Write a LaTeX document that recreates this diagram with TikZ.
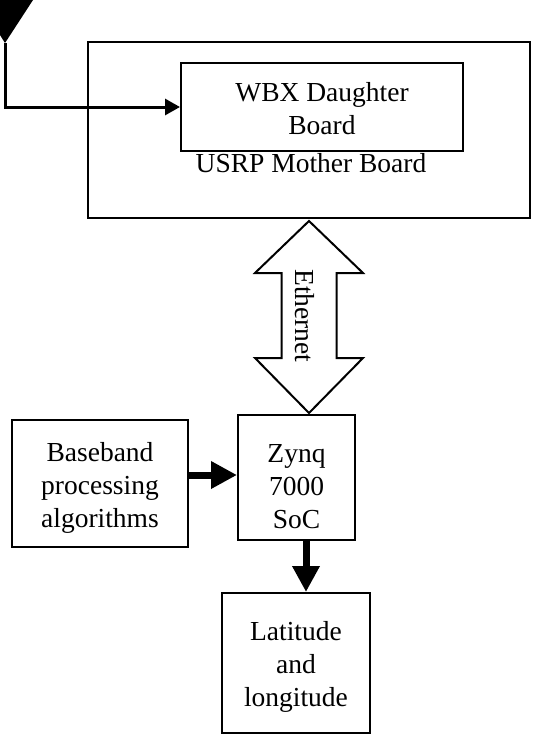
\documentclass[tikz,border=0pt]{standalone}
\usepackage{fontspec}
\setmainfont{Liberation Serif}
\usetikzlibrary{positioning,arrows.meta,calc}

\begin{document}
\begin{tikzpicture}[x=1pt, y=-1pt, thick,
  box/.style = {draw, line width=2pt, align=center, inner sep=0pt, font=\fontsize{27.5}{33}\selectfont},
  label/.style = {inner sep=1pt, font=\fontsize{27.5}{33}\selectfont},
  bigarrow/.style = {line width=7pt, -{Triangle[length=26pt, width=26pt]}}]
\useasboundingbox (0,0) rectangle (539,737);
% boards
\node[box, minimum width=442pt, minimum height=176pt] (mb) at (309,130) {};
\node[box, minimum width=282pt, minimum height=88pt] (db) at (322,107) {\rule{0pt}{23pt}WBX Daughter\\Board};
\node[label, below=0pt of db, xshift=-11pt] (mblabel) {USRP Mother Board};
% processing
\node[box, minimum width=117pt, minimum height=125pt] (zynq) at (296.5,477.5) {\rule{0pt}{36pt}Zynq\\7000\\SoC};
\node[box, minimum width=176pt, minimum height=127pt] (bb) at (100,483.5) {\rule{0pt}{27pt}Baseband\\processing\\algorithms};
\node[box, minimum width=148pt, minimum height=140pt] (latlon) at (296,663) {\rule{0pt}{27pt}Latitude\\and\\longitude};
% antenna
\fill (-22,0) -- (33,0) -- (5,43) -- cycle;
\coordinate (ant) at (5,43);
\draw[line width=3pt, -{Triangle[length=15pt, width=16pt]}] (ant) |- (db.west);
% ethernet link
\draw[line width=2pt, fill=white] ($(mb.south)+(0,2)$) -- ++(54,52) -- ++(-26.5,0) -- ++(0,85)
  -- ++(26.5,0) -- ++(-54,55) -- ++(-54,-55) -- ++(26.5,0) -- ++(0,-85) -- ++(-26.5,0) -- cycle;
\node[label, rotate=-90] (eth) at (305,316) {Ethernet};
\draw[bigarrow] (bb.east |- 0,475) -- (zynq.west |- 0,475);
\draw[bigarrow] (zynq.south -| 306,0) -- (latlon.north -| 306,0);
\end{tikzpicture}
\end{document}
